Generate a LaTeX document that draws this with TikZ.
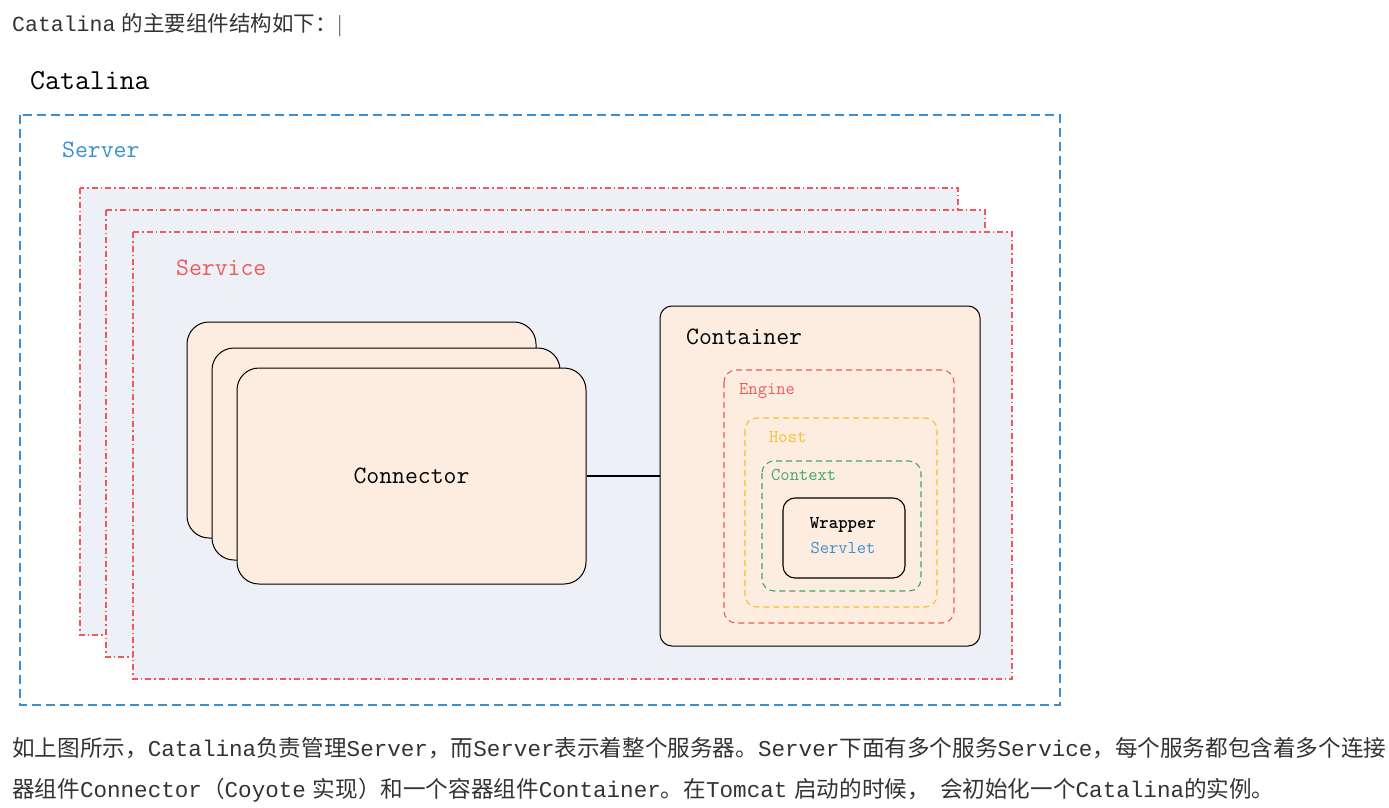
\documentclass[tikz,border=0pt]{standalone}
\usepackage{fontspec}
\newfontfamily\cjk{Noto Sans CJK SC}
\newfontfamily\mono{Liberation Mono}
\newcommand{\mm}[1]{{\mono #1}}
\definecolor{srvblue}{HTML}{3A8FD0}
\definecolor{svcred}{HTML}{EE5A5A}
\definecolor{svcfill}{HTML}{EEF0F8}
\definecolor{cfill}{HTML}{FDEDE0}
\definecolor{hosty}{HTML}{F2C12E}
\definecolor{ctxg}{HTML}{3FA66A}
\definecolor{txt}{HTML}{333333}
\begin{document}
\begin{tikzpicture}[x=1pt,y=-1pt,
  svc/.style={draw=svcred,fill=svcfill,dash pattern=on 6pt off 3pt on 1.5pt off 3pt,line width=1.2pt},
  conn/.style={draw=black,fill=cfill,rounded corners=22pt,line width=1pt},
  lab/.style={anchor=west,inner sep=0pt},
  dsh/.style={dashed,dash pattern=on 6pt off 4pt,line width=1.1pt,rounded corners=12pt},
  every node/.style={font=\ttfamily}]
\useasboundingbox (0,0) rectangle (1389,808);
\node[lab,text=txt,font=\fontsize{21.5}{24}\selectfont] (top) at (12,25) {\mm{Catalina} {\cjk 的主要组件结构如下：}|};
\node[lab,font=\ttfamily\fontsize{29}{32}\selectfont] (cat) at (30,81) {Catalina};
\draw[srvblue,line width=1.5pt,dash pattern=on 9pt off 5pt] (20,115) rectangle (1060,705);
\node[lab,text=srvblue,font=\ttfamily\fontsize{25}{28}\selectfont] (server) at (62,150) {Server};
\draw[svc] (80,188) rectangle (958,635);
\draw[svc] (106,210) rectangle (985,657);
\draw[svc] (133,232) rectangle (1012,679);
\node[lab,text=svcred,font=\ttfamily\fontsize{25}{28}\selectfont] (service) at (176,268) {Service};
\draw[conn] (187,322) rectangle (536,538);
\draw[conn] (212,348) rectangle (560,560);
\node[conn,minimum width=349pt,minimum height=216pt,font=\ttfamily\fontsize{25}{28}\selectfont] (connector) at (411.5,476) {Connector};
\node[draw=black,fill=cfill,rounded corners=12pt,line width=1pt,minimum width=320pt,minimum height=340pt] (container) at (820,476) {};
\draw[line width=1.5pt] (connector.east) -- (container.west);
\node[lab,font=\ttfamily\fontsize{25}{28}\selectfont] (clab) at (686,337) {Container};
\draw[dsh,svcred] (724,370) rectangle (954,623);
\node[lab,text=svcred,font=\ttfamily\fontsize{18}{20}\selectfont] (engine) at (739,391) {Engine};
\draw[dsh,hosty] (745,418) rectangle (937,607);
\node[lab,text=hosty,font=\ttfamily\fontsize{18}{20}\selectfont] (host) at (769,437) {Host};
\draw[dsh,ctxg] (762,461) rectangle (921,591);
\node[lab,text=ctxg,font=\ttfamily\fontsize{18}{20}\selectfont] (context) at (771,475) {Context};
\draw[line width=1.1pt,fill=cfill,rounded corners=12pt] (783,498) rectangle (905,578);
\node[font=\ttfamily\bfseries\fontsize{18}{20}\selectfont,inner sep=0pt] (wrapper) at (843,525) {Wrapper};
\node[text=srvblue,font=\ttfamily\fontsize{18}{20}\selectfont,inner sep=0pt] (servlet) at (843,548) {Servlet};
\node[lab,text=txt,font=\fontsize{22.6}{24}\selectfont] (p1) at (12,748) {{\cjk 如上图所示，}\mm{Catalina}{\cjk 负责管理}\mm{Server}{\cjk ，而}\mm{Server}{\cjk 表示着整个服务器。}\mm{Server}{\cjk 下面有多个服务}\mm{Service}{\cjk ，每个服务都包含着多个连接}};
\node[lab,text=txt,font=\fontsize{22.6}{24}\selectfont] (p2) at (12,790) {{\cjk 器组件}\mm{Connector}{\cjk （}\mm{Coyote} {\cjk 实现）和一个容器组件}\mm{Container}{\cjk 。在}\mm{Tomcat} {\cjk 启动的时候，\ \ 会初始化一个}\mm{Catalina}{\cjk 的实例。}};
\end{tikzpicture}
\end{document}
